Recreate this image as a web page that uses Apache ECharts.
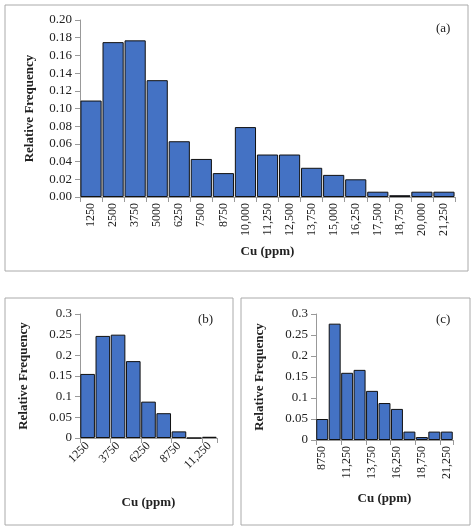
<!DOCTYPE html><html><head><meta charset="utf-8"><script src="https://cdn.jsdelivr.net/npm/echarts@6/dist/echarts.min.js"></script>
<style>body{margin:0;background:#fff}#c{width:474px;height:530px}</style></head><body><div id="c"></div><script>
const catsA=['1250','2500','3750','5000','6250','7500','8750','10,000','11,250','12,500','13,750','15,000','16,250','17,500','18,750','20,000','21,250'];
const valsA=[0.109,0.175,0.177,0.132,0.063,0.043,0.027,0.079,0.048,0.048,0.033,0.025,0.020,0.006,0.002,0.006,0.006];
const catsB=['1250','2500','3750','5000','6250','7500','8750','10,000','11,250'];
const valsB=[0.155,0.247,0.25,0.186,0.088,0.06,0.016,0,0.003];
const catsC=['8750','10,000','11,250','12,500','13,750','15,000','16,250','17,500','18,750','20,000','21,250'];
const valsC=[0.05,0.277,0.16,0.167,0.117,0.088,0.074,0.02,0.007,0.02,0.02];
const F='Liberation Serif';
const ch=echarts.init(document.getElementById('c'));
function xa(i,cats,rot,interval){return {type:'category',gridIndex:i,data:cats,axisTick:{show:true,alignWithLabel:false,lineStyle:{color:'#999'}},axisLine:{lineStyle:{color:'#999'}},axisLabel:{rotate:rot,interval:interval,color:'#222',fontFamily:F,fontSize:12,margin:6},name:'Cu (ppm)',nameLocation:'middle',nameTextStyle:{fontFamily:F,fontWeight:'bold',fontSize:13,color:'#222'}};}
function ya(i,max,iv,dec,gap){return {type:'value',gridIndex:i,min:0,max:max,interval:iv,splitLine:{show:false},axisLine:{show:true,lineStyle:{color:'#999'}},axisTick:{show:true,lineStyle:{color:'#999'}},axisLabel:{color:'#222',fontFamily:F,fontSize:13,formatter:v=>dec?v.toFixed(2):String(+v.toFixed(2))},name:'Relative Frequency',nameLocation:'middle',nameGap:gap,nameTextStyle:{fontFamily:F,fontWeight:'bold',fontSize:13,color:'#222'}};}
function s(i,d){return {type:'bar',xAxisIndex:i,yAxisIndex:i,data:d,barCategoryGap:'4%',itemStyle:{color:'#4472C4',borderColor:'#111',borderWidth:1},silent:true};}
const xA=xa(0,catsA,90,0);xA.nameGap=48;
const xB=xa(1,catsB,45,1);xB.nameGap=58;
const xC=xa(2,catsC,90,1);xC.nameGap=52;
ch.setOption({animation:false,
grid:[{left:80,right:19,top:20,bottom:333},{left:80,right:257,top:314,bottom:92},{left:316,right:21,top:314,bottom:90}],
xAxis:[xA,xB,xC],
yAxis:[ya(0,0.2,0.02,true,44),ya(1,0.3,0.05,false,50),ya(2,0.3,0.05,false,50)],
series:[s(0,valsA),s(1,valsB),s(2,valsC)],
graphic:[
{type:'rect',shape:{x:5,y:5,width:463,height:266},style:{fill:'none',stroke:'#aaa',lineWidth:1}},
{type:'rect',shape:{x:5,y:298,width:228,height:227},style:{fill:'none',stroke:'#aaa',lineWidth:1}},
{type:'rect',shape:{x:241,y:298,width:229,height:227},style:{fill:'none',stroke:'#aaa',lineWidth:1}},
{type:'text',left:436,top:22,style:{text:'(a)',font:'13px "Liberation Serif"',fill:'#222'}},
{type:'text',left:198,top:313,style:{text:'(b)',font:'13px "Liberation Serif"',fill:'#222'}},
{type:'text',left:436,top:313,style:{text:'(c)',font:'13px "Liberation Serif"',fill:'#222'}}
]});
</script></body></html>
